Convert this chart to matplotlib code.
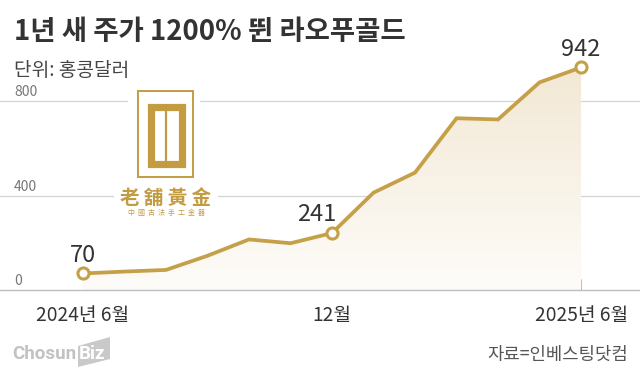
import numpy as np
import matplotlib
matplotlib.use("Agg")
import matplotlib.pyplot as plt
from matplotlib.patches import Rectangle, Polygon
from matplotlib.colors import LinearSegmentedColormap

plt.rcParams['font.family'] = ['Noto Sans CJK KR', 'DejaVu Sans']

# 라오푸골드 월별 주가 (홍콩달러), 2024년 6월 ~ 2025년 6월
months = list(range(13))
prices = [70, 78, 85, 145, 214, 198, 241, 412, 497, 727, 722, 879, 942]
labeled = [0, 6, 12]
label_text = ['70', '241', '942']
xtick_pos = [0, 6, 12]
xtick_labels = ['2024년 6월', '12월', '2025년 6월']
yticks = [0, 400, 800]

gold = '#c5a048'
W, H = 640, 385

fig = plt.figure(figsize=(6.4, 3.85), dpi=100)
ax = fig.add_axes([0, 1 - 290 / H, 1, 240 / H])
ymax = 240 / (94.5 / 400)

# 그리드
for v in yticks[1:]:
    ax.axhline(v, color='#d4d4d4', lw=0.9, zorder=1)
for s in ['top', 'right', 'left']:
    ax.spines[s].set_visible(False)
ax.spines['bottom'].set_color('#bdbdbd')
ax.spines['bottom'].set_linewidth(1.0)
ax.set_yticks([])
ax.set_xticks(xtick_pos)
ax.set_xticklabels(xtick_labels, fontsize=13.8, color='#333333')
ax.tick_params(axis='x', direction='in', length=8, color='#bdbdbd', pad=11)

# y축 라벨 (선 위에)
for v in yticks:
    ax.text(14 / W, v + 38, str(v), transform=ax.get_yaxis_transform(),
            fontsize=10, color='#777777', va='center', ha='left')

# 그라데이션 채우기
fill = ax.fill_between(months, prices, 0, color='none', lw=0)
cmap = LinearSegmentedColormap.from_list('g', ['#fefcf9', '#f2e8d4'])
grad = np.linspace(0, 1, 256).reshape(-1, 1)
img = ax.imshow(grad, extent=[0, 12, 0, max(prices)], origin='lower',
                cmap=cmap, aspect='auto', zorder=2)
img.set_clip_path(fill.get_paths()[0], ax.transData)
ax.set_xlim(-2.0, 13.42)
ax.set_ylim(0, ymax)

ax.plot(months, prices, color=gold, lw=2.7, zorder=4, solid_joinstyle='miter')
ax.plot([months[i] for i in labeled], [prices[i] for i in labeled], 'o',
        ms=8, mfc='white', mec=gold, mew=2.2, zorder=5, clip_on=False)

offsets = [(0, 5), (-11, 5), (0, 5)]
for i, t, off in zip(labeled, label_text, offsets):
    ax.annotate(t, (months[i], prices[i]), xytext=off, textcoords='offset points',
                ha='center', va='bottom', fontsize=17, color='#333333')

# 오버레이 (픽셀 좌표)
ov = fig.add_axes([0, 0, 1, 1], facecolor='none')
ov.set_xlim(0, W)
ov.set_ylim(H, 0)
ov.axis('off')

ov.text(14, 32, '1년 새 주가 1200% 뛴 라오푸골드', fontsize=19.8, fontweight='bold',
        color='#333333', va='center', ha='left')
ov.text(14, 71, '단위: 홍콩달러', fontsize=13.8, color='#444444', va='center', ha='left')

# 로고 (老舖黃金)
ov.add_patch(Rectangle((128, 88), 72, 92, fc='white', ec='none', zorder=3))
ov.add_patch(Rectangle((114, 183), 104, 40, fc='white', ec='none', zorder=3))
logo_gold = '#c39c42'
ov.add_patch(Rectangle((138, 91), 55, 86, fc='none', ec=logo_gold, lw=1.4, zorder=4))
ov.add_patch(Rectangle((150.5, 106.5), 31, 57, fc='none', ec=logo_gold, lw=5.2, zorder=4))
ov.plot([166, 166], [110, 160], color=logo_gold, lw=1.6, zorder=4)
ov.text(166, 198, '老 舖 黃 金', fontsize=14, fontweight='bold', color=logo_gold,
        ha='center', va='center', family=['Noto Sans CJK TC', 'DejaVu Sans'], zorder=5)
ov.text(166, 213, '中  國  古  法  手  工  金  器', fontsize=5, color=logo_gold,
        ha='center', va='center', family=['Noto Sans CJK TC', 'DejaVu Sans'], zorder=5)

# 하단
ov.text(12, 354, 'Chosun', fontsize=13.5, fontweight='bold', color='#c2c2c2',
        ha='left', va='center', family=['Roboto', 'DejaVu Sans'])
ov.add_patch(Polygon([(78, 346), (110, 337), (110, 359), (78, 367)],
                     closed=True, fc='#c9c9c9', ec='none'))
ov.text(79, 354, 'Biz', fontsize=13.5, fontweight='bold', color='white',
        ha='left', va='center', family=['Roboto', 'DejaVu Sans'])
ov.text(628, 355, '자료=인베스팅닷컴', fontsize=12.8, color='#555555',
        ha='right', va='center')

fig.savefig('out.png', dpi=100)
